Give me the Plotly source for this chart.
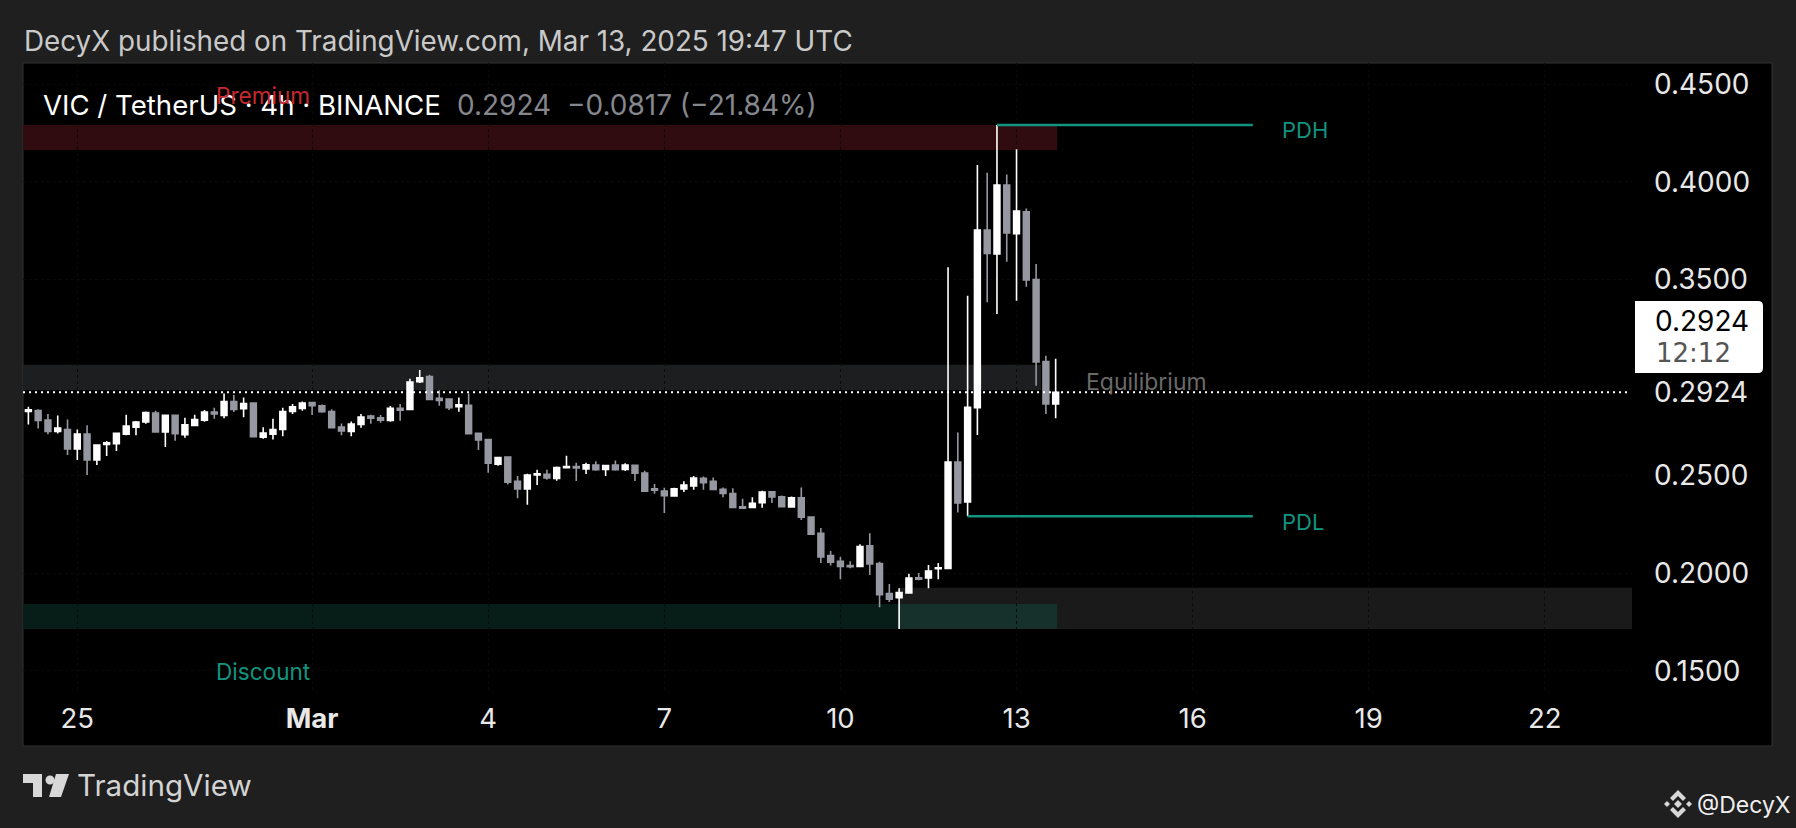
import pandas as pd
import plotly.graph_objects as go

W, H = 1796, 828
PANE_L, PANE_R, PANE_T, PANE_B = 23, 1772, 63, 746
PLOT_R, PLOT_B = 1632, 692

# 4h candles, first one Feb 24 04:00
times = pd.date_range("2025-02-24 04:00", periods=106, freq="4h")

opens = [
    .2826, .2831, .2782, .2724, .2734, .2634, .2710, .2578, .2658, .2661,
    .2710, .2745, .2772, .2818, .2721, .2806, .2707, .2755, .2782, .2823,
    .2806, .2877, .2840, .2869, .2695, .2710, .2734, .2826, .2842, .2872,
    .2855, .2826, .2746, .2724, .2760, .2802, .2794, .2780, .2842, .2837,
    .2978, .3005, .2893, .2889, .2850, .2857, .2714, .2683, .2557, .2593,
    .2469, .2430, .2501, .2505, .2484, .2539, .2544, .2532, .2552, .2530,
    .2552, .2530, .2551, .2511, .2431, .2419, .2394, .2430, .2445, .2484,
    .2469, .2428, .2406, .2339, .2336, .2360, .2416, .2390, .2338, .2385,
    .2286, .2203, .2089, .2060, .2039, .2034, .2140, .2048, .1895, .1874,
    .1898, .1976, .1975, .2022, .2024, .2568, .2363, .2845, .3754, .3631,
    .3984, .3735, .3847, .3501, .3081, .2864,
]
highs = [
    .2850, .2837, .2813, .2806, .2785, .2734, .2755, .2654, .2675, .2714,
    .2809, .2777, .2826, .2830, .2809, .2806, .2794, .2809, .2833, .2845,
    .2918, .2910, .2898, .2872, .2745, .2789, .2845, .2864, .2877, .2874,
    .2862, .2837, .2765, .2775, .2813, .2809, .2808, .2854, .2864, .2993,
    .3038, .3014, .2935, .2893, .2898, .2918, .2714, .2683, .2595, .2595,
    .2496, .2508, .2528, .2528, .2545, .2600, .2564, .2564, .2571, .2551,
    .2576, .2561, .2552, .2523, .2455, .2436, .2436, .2469, .2496, .2493,
    .2489, .2438, .2433, .2380, .2387, .2421, .2418, .2397, .2392, .2438,
    .2286, .2230, .2113, .2084, .2061, .2147, .2203, .2058, .1944, .1923,
    .1997, .2000, .2041, .2051, .3563, .2719, .3418, .4086, .4047, .4290,
    .4038, .4166, .3864, .3580, .3111, .3096,
]
lows = [
    .2760, .2739, .2710, .2714, .2603, .2578, .2501, .2552, .2598, .2624,
    .2704, .2704, .2763, .2721, .2644, .2676, .2692, .2751, .2774, .2789,
    .2792, .2823, .2796, .2697, .2687, .2683, .2700, .2813, .2830, .2808,
    .2820, .2739, .2704, .2700, .2743, .2763, .2768, .2774, .2779, .2837,
    .2971, .2888, .2855, .2833, .2825, .2712, .2629, .2513, .2549, .2453,
    .2382, .2349, .2450, .2477, .2472, .2534, .2470, .2506, .2523, .2496,
    .2523, .2522, .2470, .2416, .2406, .2307, .2390, .2414, .2426, .2426,
    .2424, .2387, .2334, .2331, .2334, .2334, .2358, .2338, .2334, .2271,
    .2199, .2051, .2039, .1968, .2024, .2032, .1990, .1825, .1852, .1714,
    .1895, .1963, .1923, .1969, .2024, .2310, .2290, .2706, .3384, .3324,
    .3592, .3392, .3464, .2958, .2813, .2791,
]
closes = [
    .2835, .2780, .2724, .2741, .2634, .2710, .2578, .2654, .2666, .2714,
    .2751, .2772, .2820, .2721, .2806, .2712, .2758, .2785, .2823, .2813,
    .2877, .2837, .2867, .2697, .2716, .2734, .2826, .2850, .2869, .2855,
    .2825, .2743, .2726, .2762, .2797, .2792, .2782, .2842, .2833, .2976,
    .2998, .2888, .2883, .2845, .2860, .2712, .2680, .2561, .2591, .2465,
    .2430, .2501, .2508, .2486, .2539, .2545, .2537, .2554, .2528, .2549,
    .2528, .2552, .2511, .2419, .2424, .2395, .2431, .2450, .2486, .2462,
    .2428, .2407, .2336, .2332, .2356, .2414, .2389, .2339, .2385, .2286,
    .2199, .2082, .2055, .2034, .2032, .2135, .2046, .1889, .1867, .1901,
    .1975, .1969, .2010, .2027, .2568, .2358, .2847, .3754, .3634, .3984,
    .3738, .3851, .3498, .3079, .2864, .2924,
]

last_price = 0.2924
pdh, pdl = 0.4290, 0.2290
premium_zone = (0.4163, 0.4290)
equilibrium_zone = (0.2936, 0.3065)
discount_zone = (0.1714, 0.1842)
swing_zone = (0.1714, 0.1925)

price_ticks = [0.45, 0.40, 0.35, 0.2924, 0.25, 0.20, 0.15]
price_labels = ["0.4500", "0.4000", "0.3500", "0.2924", "0.2500", "0.2000", "0.1500"]
date_ticks = ["2025-02-25", "2025-03-01", "2025-03-04", "2025-03-07", "2025-03-10",
              "2025-03-13", "2025-03-16", "2025-03-19", "2025-03-22"]
date_labels = ["25", "<b>Mar</b>", "4", "7", "10", "13", "16", "19", "22"]

x_range = ["2025-02-24 01:48", "2025-03-23 11:38"]
y_range = [0.1392, 0.46074]
zone_end = "2025-03-13 16:36"
line_end = "2025-03-17 00:36"
teal = "#12947f"


def px(x):
    return (x - PANE_L) / (PLOT_R - PANE_L)


def py(y):
    return 1 - (y - PANE_T) / (PLOT_B - PANE_T)


def label(text, x, y, size, color, anchor="left", family="Inter"):
    return dict(text=text, x=px(x), y=py(y), xref="paper", yref="paper", showarrow=False,
                xanchor=anchor, yanchor="middle", borderpad=0,
                font=dict(family=family, size=size, color=color))


def zone(x0, x1, y0, y1, color):
    return dict(type="rect", xref="x", yref="y", x0=x0, x1=x1, y0=y0, y1=y1,
                fillcolor=color, line_width=0, layer="below")


def polygon(points, color="#d8d8d8"):
    path = "M" + " L".join(f"{px(a):.5f},{py(b):.5f}" for a, b in points) + " Z"
    return dict(type="path", xref="paper", yref="paper", path=path, fillcolor=color, line_width=0)


fig = go.Figure(go.Candlestick(
    x=times, open=opens, high=highs, low=lows, close=closes,
    increasing=dict(line=dict(color="#ffffff", width=1.6), fillcolor="#ffffff"),
    decreasing=dict(line=dict(color="#9598a1", width=1.6), fillcolor="#9598a1"),
    whiskerwidth=0, showlegend=False,
))

shapes = [
    # pane background goes under the price scale too
    dict(type="rect", xref="paper", yref="paper", x0=px(PANE_L), x1=px(PANE_R), y0=py(PANE_B), y1=py(PANE_T),
         fillcolor="#000000", line=dict(color="#333333", width=1), layer="below"),
    zone(x_range[0], zone_end, premium_zone[0], premium_zone[1], "#300c10"),
    zone(x_range[0], "2025-03-13 10:00", equilibrium_zone[0], equilibrium_zone[1], "#1c1e20"),
    zone(x_range[0], zone_end, discount_zone[0], discount_zone[1], "#071d18"),
    zone("2025-03-11 00:00", x_range[1], swing_zone[0], swing_zone[1], "#1a1a1a"),
    zone("2025-03-11 00:00", zone_end, discount_zone[0], discount_zone[1], "#16302c"),
    dict(type="line", xref="x", yref="y", x0=x_range[0], x1="2025-03-23 10:00", y0=last_price, y1=last_price,
         line=dict(color="#ffffff", width=2, dash="2px,4px")),
    dict(type="line", xref="x", yref="y", x0=times[99], x1=line_end, y0=pdh, y1=pdh,
         line=dict(color=teal, width=2.5)),
    dict(type="line", xref="x", yref="y", x0=times[96], x1=line_end, y0=pdl, y1=pdl,
         line=dict(color=teal, width=2.5)),
    # price tag on the axis
    dict(type="path", xref="paper", yref="paper", fillcolor="#ffffff", line_width=0,
         path=f"M{px(1635):.5f},{py(301):.5f} L{px(1758):.5f},{py(301):.5f} "
              f"Q{px(1763):.5f},{py(301):.5f} {px(1763):.5f},{py(306):.5f} L{px(1763):.5f},{py(368):.5f} "
              f"Q{px(1763):.5f},{py(373):.5f} {px(1758):.5f},{py(373):.5f} L{px(1635):.5f},{py(373):.5f} Z"),
    # TradingView mark
    polygon([(23, 774), (42, 774), (42, 797), (33, 797), (33, 783), (23, 783)]),
    dict(type="circle", xref="paper", yref="paper", x0=px(45.5), x1=px(54.5), y0=py(784.5), y1=py(775.5),
         fillcolor="#d8d8d8", line_width=0),
    polygon([(56, 774), (69, 774), (61, 797), (49, 797)]),
    # Binance mark
    polygon([(1678, 790), (1686, 798), (1683, 801), (1678, 796), (1673, 801), (1670, 798)]),
    polygon([(1678, 818), (1686, 810), (1683, 807), (1678, 812), (1673, 807), (1670, 810)]),
    polygon([(1678, 800), (1682, 804), (1678, 808), (1674, 804)]),
    polygon([(1667, 801), (1670, 804), (1667, 807), (1664, 804)]),
    polygon([(1689, 801), (1692, 804), (1689, 807), (1686, 804)]),
]

annotations = [
    label("DecyX published on TradingView.com, Mar 13, 2025 19:47 UTC", 23, 41, 27.8, "#c9c9c9"),
    label("VIC / TetherUS · 4h · BINANCE", 42, 105, 27.6, "#ffffff"),
    label("0.2924  −0.0817 (−21.84%)", 456, 105, 28, "#85878c"),
    label("Premium", 263, 95, 22.6, "#c8282f", "center"),
    label("Discount", 263, 671, 22.6, teal, "center"),
    label("Equilibrium", 1085, 382, 23, "#6a6a6a"),
    label("PDH", 1281, 130, 22, teal),
    label("PDL", 1281, 522, 22, teal),
    label("0.2924", 1654, 321, 28, "#000000"),
    label("12:12", 1655, 353, 26, "#555555", family="DejaVu Sans"),
    label("TradingView", 76, 785, 29.6, "#d4d4d4"),
    label("@DecyX", 1696, 805, 23, "#efefef"),
]

fig.update_layout(
    width=W, height=H, autosize=False,
    margin=dict(l=PANE_L, r=W - PLOT_R, t=PANE_T, b=H - PLOT_B, pad=0),
    paper_bgcolor="#1f1f1f", plot_bgcolor="#000000",
    boxgap=0.15, shapes=shapes, annotations=annotations, showlegend=False,
    font=dict(family="Inter", color="#e8e8e8"),
    xaxis=dict(type="date", range=x_range, tickvals=date_ticks, ticktext=date_labels,
               tickfont=dict(size=27.5, color="#e8e8e8"), ticklen=0, showline=False, zeroline=False,
               rangeslider=dict(visible=False), showgrid=True, gridcolor="#0a0a0a", griddash="dot",
               ticklabelstandoff=7),
    yaxis=dict(range=y_range, side="right", tickvals=price_ticks, ticktext=price_labels,
               tickfont=dict(size=28, color="#e8e8e8"), ticklen=0, showline=False, zeroline=False,
               showgrid=True, gridcolor="#0a0a0a", griddash="dot", ticklabelstandoff=21),
)

fig.write_html("out.html", config=dict(displayModeBar=False),
               post_script="document.body.style.margin='0';")
